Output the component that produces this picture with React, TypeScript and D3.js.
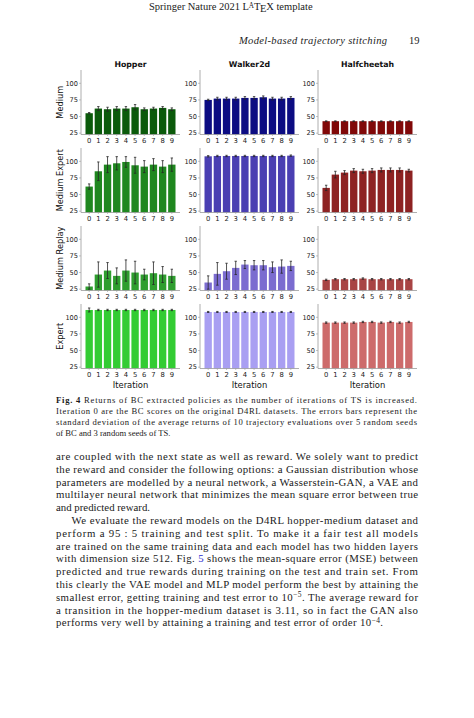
import React from 'react';
import * as d3 from 'd3';

const iterations = [0, 1, 2, 3, 4, 5, 6, 7, 8, 9];
const environments = ['Hopper', 'Walker2d', 'Halfcheetah'];
const datasets = ['Medium', 'Medium Expert', 'Medium Replay', 'Expert'];
const yTicks = [25, 50, 75, 100];

const hopperMedium = [55, 62, 61, 62, 62, 64, 61, 62, 63, 61];
const hopperMediumErr = [1, 3, 3, 3, 3, 4, 2, 2, 2, 2];
const hopperMediumExpert = [62, 85, 95, 97, 99, 94, 92, 95, 92, 95];
const hopperMediumExpertErr = [4, 14, 12, 10, 8, 12, 9, 9, 9, 10];
const hopperMediumReplay = [29, 47, 53, 45, 53, 50, 47, 49, 47, 45];
const hopperMediumReplayErr = [4, 19, 12, 12, 16, 17, 8, 17, 12, 10];
const hopperExpert = [111, 111, 111, 111, 111, 111, 111, 111, 111, 111];
const hopperExpertErr = [3, 1, 1, 1, 1, 1, 1, 1, 1, 1];

const walkerMedium = [75, 77, 77, 77, 78, 78, 79, 77, 77, 78];
const walkerMediumErr = [1, 2, 2, 2, 2, 2, 2, 2, 2, 2];
const walkerMediumExpert = [107.5, 108, 108, 108, 108, 108, 108, 108, 108, 108.5];
const walkerMediumExpertErr = [1, 1, 1, 1, 1, 1, 1, 1, 1, 1];
const walkerMediumReplay = [35, 48, 52, 57, 62, 61, 61, 58, 59, 60];
const walkerMediumReplayErr = [10, 17, 12, 10, 6, 7, 7, 8, 10, 7];
const walkerExpert = [108, 108, 108, 108, 108, 108, 108, 108, 108, 108];
const walkerExpertErr = [0.8, 0.8, 0.8, 0.8, 0.8, 0.8, 0.8, 0.8, 0.8, 0.8];

const halfcheetahMedium = [43, 43, 43, 43, 43, 43, 43, 43, 43, 43];
const halfcheetahMediumErr = [0.5, 0.5, 0.5, 0.5, 0.5, 0.5, 0.5, 0.5, 0.5, 0.5];
const halfcheetahMediumExpert = [60, 80, 83, 86, 85, 86, 87, 87, 87, 86];
const halfcheetahMediumExpertErr = [4, 5, 3, 3, 3, 3, 3, 3, 3, 2];
const halfcheetahMediumReplay = [39, 40, 40, 40, 41, 40, 40, 40, 40, 40];
const halfcheetahMediumReplayErr = [1, 1, 1, 1, 1, 1, 1, 1, 1, 1];
const halfcheetahExpert = [92, 92, 92, 92, 93, 93, 92, 93, 92, 93];
const halfcheetahExpertErr = [1, 1, 1, 1, 1, 1, 1, 1, 1, 1];

const hopperColors = ['#0b5a0b', '#1f871f', '#2f9e2f', '#33cc33'];
const walkerColors = ['#0c0c82', '#4a3fb2', '#7b6cd0', '#a99ff2'];
const halfcheetahColors = ['#800808', '#8d2222', '#a84444', '#cd6b6b'];

const panels = [
  [
    [hopperMedium, hopperMediumErr],
    [hopperMediumExpert, hopperMediumExpertErr],
    [hopperMediumReplay, hopperMediumReplayErr],
    [hopperExpert, hopperExpertErr],
  ],
  [
    [walkerMedium, walkerMediumErr],
    [walkerMediumExpert, walkerMediumExpertErr],
    [walkerMediumReplay, walkerMediumReplayErr],
    [walkerExpert, walkerExpertErr],
  ],
  [
    [halfcheetahMedium, halfcheetahMediumErr],
    [halfcheetahMediumExpert, halfcheetahMediumExpertErr],
    [halfcheetahMediumReplay, halfcheetahMediumReplayErr],
    [halfcheetahExpert, halfcheetahExpertErr],
  ],
];
const colors = [hopperColors, walkerColors, halfcheetahColors];

const captionLines = [
  'Returns of BC extracted policies as the number of iterations of TS is increased.',
  'Iteration 0 are the BC scores on the original D4RL datasets. The errors bars represent the',
  'standard deviation of the average returns of 10 trajectory evaluations over 5 random seeds',
  'of BC and 3 random seeds of TS.',
];

const bodyLines = [
  'are coupled with the next state as well as reward. We solely want to predict',
  'the reward and consider the following options: a Gaussian distribution whose',
  'parameters are modelled by a neural network, a Wasserstein-GAN, a VAE and',
  'multilayer neural network that minimizes the mean square error between true',
  'and predicted reward.',
  'We evaluate the reward models on the D4RL hopper-medium dataset and',
  'perform a 95 : 5 training and test split. To make it a fair test all models',
  'are trained on the same training data and each model has two hidden layers',
  'with dimension size 512. Fig. |5| shows the mean-square error (MSE) between',
  'predicted and true rewards during training on the test and train set. From',
  'this clearly the VAE model and MLP model perform the best by attaining the',
  'smallest error, getting training and test error to 10^−5^. The average reward for',
  'a transition in the hopper-medium dataset is 3.11, so in fact the GAN also',
  'performs very well by attaining a training and test error of order 10^−4^.',
];

const colX = [81, 200, 318];
const rowY = [70, 148, 226, 304];
const panelW = 99;
const panelH = 64.5;
const yDomain = [23, 120];
const sans = 'DejaVu Sans, sans-serif';
const serif = 'Liberation Serif, DejaVu Serif, serif';

function Panel({ ci, ri }: { ci: number; ri: number }) {
  const [vals, errs] = panels[ci][ri];
  const x0 = colX[ci];
  const y0 = rowY[ri];
  const x = d3.scaleLinear().domain([-0.89, 9.89]).range([x0, x0 + panelW]);
  const y = d3.scaleLinear().domain(yDomain).range([y0 + panelH, y0]);
  const bw = x(0.8) - x(0);
  const color = colors[ci][ri];
  const bottom = y0 + panelH;
  return (
    <g>
      {vals.map((v, i) => (
        <rect key={i} x={x(iterations[i]) - bw / 2} y={y(v)} width={bw} height={bottom - y(v)} fill={color} />
      ))}
      {vals.map((v, i) => {
        const e = errs[i];
        const cx = x(iterations[i]);
        const top = y(Math.min(v + e, yDomain[1]));
        const bot = y(Math.max(v - e, yDomain[0]));
        return (
          <g key={'e' + i} stroke="#262626" strokeWidth={0.8}>
            <line x1={cx} x2={cx} y1={top} y2={bot} />
            <line x1={cx - 1.2} x2={cx + 1.2} y1={top} y2={top} />
            <line x1={cx - 1.2} x2={cx + 1.2} y1={bot} y2={bot} />
          </g>
        );
      })}
      <line x1={x0} x2={x0} y1={y0} y2={bottom} stroke="#9a9a9a" strokeWidth={0.8} />
      <line x1={x0} x2={x0 + panelW} y1={bottom} y2={bottom} stroke="#9a9a9a" strokeWidth={0.8} />
      {yTicks.map((t) => (
        <g key={'y' + t}>
          <line x1={x0 - 2} x2={x0} y1={y(t)} y2={y(t)} stroke="#9a9a9a" strokeWidth={0.6} />
          <text x={x0 - 3} y={y(t) + 2.3} fontSize={6.6} textAnchor="end" fontFamily={sans} fill="#222">
            {t}
          </text>
        </g>
      ))}
      {iterations.map((t) => (
        <g key={'x' + t}>
          <line x1={x(t)} x2={x(t)} y1={bottom} y2={bottom + 1.5} stroke="#9a9a9a" strokeWidth={0.6} />
          <text x={x(t)} y={bottom + 8.3} fontSize={6.8} textAnchor="middle" fontFamily={sans} fill="#222">
            {t}
          </text>
        </g>
      ))}
    </g>
  );
}

function BodyLine({ text, i }: { text: string; i: number }) {
  const yb = 460 + 12.8 * i;
  const indent = i === 5 ? 71.5 : 56;
  const widths: Record<number, number> = { 4: 94, 13: 327 };
  const tl = widths[i] !== undefined ? widths[i] : 418 - indent;
  const parts = text.split(/(\^[^^]+\^|\|[^|]+\|)/).filter((p) => p.length);
  let shifted = false;
  const spans = parts.map((p, k) => {
    if (p.startsWith('^')) {
      shifted = true;
      return (
        <tspan key={k} dy={-3.8} fontSize={7.5}>
          {p.slice(1, -1)}
        </tspan>
      );
    }
    if (p.startsWith('|')) {
      return (
        <tspan key={k} fill="#2b2bd0">
          {p.slice(1, -1)}
        </tspan>
      );
    }
    const dy = shifted ? 3.8 : 0;
    shifted = false;
    return (
      <tspan key={k} dy={dy}>
        {p}
      </tspan>
    );
  });
  return (
    <text x={indent} y={yb} fontSize={10.8} fontFamily={serif} fill="#1a1a1a" textLength={tl} lengthAdjust="spacing">
      {spans}
    </text>
  );
}

export default function App() {
  return (
    <div style={{ position: 'absolute', left: 0, top: 0 }}>
      <svg width={474} height={718} style={{ display: 'block', background: '#fff' }}>
        <rect width={474} height={718} fill="#fff" />
        <text x={149} y={10} fontSize={10.5} fontFamily={serif} fill="#222">
          <tspan>Springer Nature 2021 L</tspan>
          <tspan fontSize={7.2} dx={-0.3} dy={-2.3}>A</tspan>
          <tspan dx={0} dy={2.3}>T</tspan>
          <tspan dx={-0.3} dy={2.4}>E</tspan>
          <tspan dx={-0.3} dy={-2.4}>X</tspan>
          <tspan> template</tspan>
        </text>
        <text x={239} y={43.5} fontSize={10.5} fontFamily={serif} fontStyle="italic" fill="#222" textLength={148} lengthAdjust="spacing">
          Model-based trajectory stitching
        </text>
        <text x={409} y={43.5} fontSize={10.5} fontFamily={serif} fill="#222">
          19
        </text>

        {environments.map((env, ci) => (
          <text key={env} x={colX[ci] + panelW / 2} y={67} fontSize={7.8} fontWeight="bold" fontFamily={sans} textAnchor="middle" fill="#111">
            {env}
          </text>
        ))}
        {datasets.map((ds, ri) => (
          <text
            key={ds}
            transform={`translate(63,${rowY[ri] + panelH / 2}) rotate(-90)`}
            fontSize={8.2}
            fontFamily={sans}
            textAnchor="middle"
            fill="#111"
          >
            {ds}
          </text>
        ))}
        {environments.map((env, ci) => (
          <text key={'it' + env} x={colX[ci] + panelW / 2} y={387.5} fontSize={8.4} fontFamily={sans} textAnchor="middle" fill="#111">
            Iteration
          </text>
        ))}
        {environments.map((env, ci) =>
          datasets.map((ds, ri) => <Panel key={env + ds} ci={ci} ri={ri} />)
        )}

        {captionLines.map((line, i) => (
          <text
            key={'c' + i}
            x={56}
            y={402.5 + 11 * i}
            fontSize={8.6}
            fontFamily={serif}
            fill="#1a1a1a"
            textLength={i < 3 ? 361 : undefined}
            lengthAdjust="spacing"
          >
            {i === 0 ? (
              <>
                <tspan fontWeight="bold">Fig. 4</tspan>
                <tspan>{'  ' + line}</tspan>
              </>
            ) : (
              line
            )}
          </text>
        ))}

        {bodyLines.map((line, i) => (
          <BodyLine key={'b' + i} text={line} i={i} />
        ))}
      </svg>
    </div>
  );
}
